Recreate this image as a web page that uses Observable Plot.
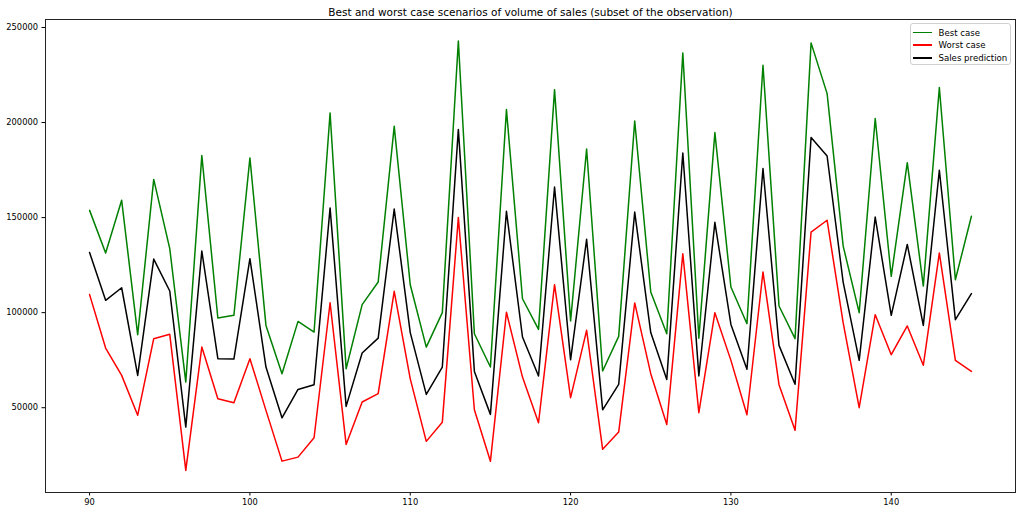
<!DOCTYPE html>
<html><head><meta charset="utf-8">
<script src="https://cdn.jsdelivr.net/npm/d3@7"></script>
<script src="https://cdn.jsdelivr.net/npm/@observablehq/plot@0.6"></script>
<style>
body{margin:0;background:#fff;font-family:"DejaVu Sans",sans-serif;}
#wrap{position:relative;width:1024px;height:513px;}
#legend{position:absolute;left:910px;top:23px;width:101px;height:42px;border:1px solid #d0d0d0;border-radius:3px;background:rgba(255,255,255,0.8);font-size:8.6px;box-sizing:border-box;color:#000;}
.item{position:absolute;left:0;height:12px;display:flex;align-items:center;white-space:nowrap;}
.sw{width:19px;height:1.6px;margin-left:2px;margin-right:6.5px;}
</style></head><body><div id="wrap"></div>
<script>
const title = "Best and worst case scenarios of volume of sales (subset of the observation)";
const xs = [90,91,92,93,94,95,96,97,98,99,100,101,102,103,104,105,106,107,108,109,110,111,112,113,114,115,116,117,118,119,120,121,122,123,124,125,126,127,128,129,130,131,132,133,134,135,136,137,138,139,140,141,142,143,144,145];
const bestCase = [153800,131400,159100,88400,170100,133700,63500,182600,97200,98600,
  181400,93300,67900,95400,89800,205000,70500,104200,116100,198000,
  114700,81900,100000,242900,88900,71400,206800,107300,91200,217300,
  95600,186100,69300,87500,200800,110900,88900,236600,86600,194700,
  113500,94200,230100,103500,86300,241900,215200,135100,100000,202100,
  119100,178900,114000,218400,117300,150700];
const worstCase = [109500,81400,67000,46000,86300,88600,17000,81900,54700,52600,
  75800,48600,21900,24000,34200,105200,30700,53000,57400,111200,
  65200,32300,42400,150000,48900,21800,100200,66100,42100,114700,
  55300,90700,28100,37200,105100,67900,41200,131000,47400,100000,
  74900,46300,121400,62100,38100,142400,148600,94700,50000,98900,
  77900,93000,72300,131400,74900,69100];
const salesPrediction = [131600,106500,113100,67000,128200,111400,39800,132400,75800,75600,
  128400,71400,44700,59600,62100,155100,50700,78800,86600,154500,
  89500,57000,71400,196400,69100,46500,153300,87200,66700,166100,
  75200,138600,48900,62300,152900,89500,64900,184000,66700,147500,
  93800,70200,175800,82800,62300,192100,182400,116100,74900,150300,
  98600,135900,93300,174900,96300,110000];
const seriesNames = ["Best case","Worst case","Sales prediction"];
const seriesColors = ["green","red","black"];
const xTicks = [90,100,110,120,130,140];
const yTicks = [50000,100000,150000,200000,250000];

const seriesValues = [bestCase, worstCase, salesPrediction];
const tables = seriesValues.map(vals => xs.map((x,i) => ({x, y: vals[i]})));

const chart = Plot.plot({
  width: 1024, height: 513,
  marginLeft: 45, marginRight: 9, marginTop: 19, marginBottom: 21,
  style: {fontFamily: "DejaVu Sans, sans-serif", fontSize: "8.3px", color: "black", background: "white"},
  x: {domain: [87.25, 147.75]},
  y: {domain: [5400, 254200]},
  marks: [
    Plot.axisX({ticks: xTicks, tickSize: 3.5, tickPadding: 3, tickFormat: d => String(d), label: null, fontSize: 8.3}),
    Plot.axisY({ticks: yTicks, tickSize: 3.5, tickPadding: 4, tickFormat: d => String(d), label: null, fontSize: 8.3}),
    ...tables.map((t, k) => Plot.line(t, {x: "x", y: "y", stroke: seriesColors[k], strokeWidth: 1.5})),
    Plot.frame({stroke: "#222", strokeWidth: 1}),
    Plot.text([title], {frameAnchor: "top", dy: -7, lineAnchor: "middle", fontSize: 10.5, text: d => d})
  ]
});
const wrap = document.getElementById("wrap");
wrap.appendChild(chart);
const leg = document.createElement("div");
leg.id = "legend";
seriesNames.forEach((n, k) => {
  const it = document.createElement("div");
  it.className = "item";
  it.style.top = (2.5 + k * 12.7) + "px";
  const sw = document.createElement("span");
  sw.className = "sw";
  sw.style.background = seriesColors[k];
  const tx = document.createElement("span");
  tx.textContent = n;
  it.appendChild(sw); it.appendChild(tx);
  leg.appendChild(it);
});
wrap.appendChild(leg);
</script></body></html>
